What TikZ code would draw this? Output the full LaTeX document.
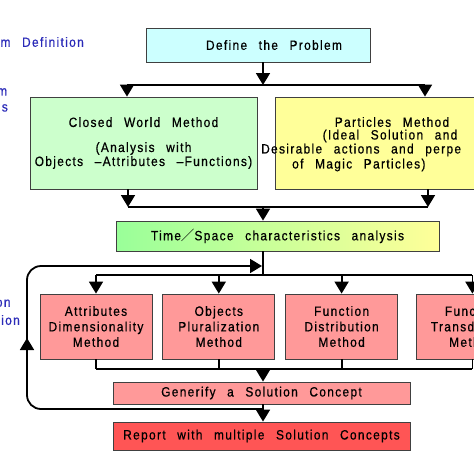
\documentclass[tikz,border=0pt]{standalone}
\usepackage{fontspec}
\newfontfamily\gothic[FakeStretch=0.88,FakeBold=0.6,LetterSpace=10,WordSpace=2.5]{Liberation Sans}
\newfontfamily\cjk{Noto Sans CJK SC}
\usetikzlibrary{positioning,calc,arrows.meta,decorations.markings}

\definecolor{defcol}{HTML}{CCFFFF}
\definecolor{cwcol}{HTML}{CCFFCC}
\definecolor{pmcol}{HTML}{FFFF99}
\definecolor{tsleft}{HTML}{99FF99}
\definecolor{tsright}{HTML}{FFFF99}
\definecolor{methcol}{HTML}{FF9999}
\definecolor{repcol}{HTML}{FF5555}
\definecolor{phasecol}{HTML}{2B2BB8}

\begin{document}
\begin{tikzpicture}[x=1pt, y=-1pt,
    font={\gothic\fontsize{13.5pt}{14pt}\selectfont},
    box/.style={draw=black!75, line width=0.8pt, inner sep=0pt, align=center},
    method/.style={box, fill=methcol, minimum width=112pt, minimum height=65pt},
    phase/.style={text=phasecol, align=center, inner sep=0pt},
    wire/.style={line width=1.8pt},
    arr/.style={wire, -{Triangle[width=14pt,length=12pt]}}]
  \useasboundingbox (0,0) rectangle (474,474);
  \clip (0,0) rectangle (474,474);

  % phases on the left
  \node[phase, anchor=east] (probdef) at (84,42) {Problem Definition};
  \node[phase, anchor=east] (probana) at (8,100) {Problem\\[2pt]Analysis};
  \node[phase, anchor=east] (solgen) at (20,311) {Solution\\[4pt]Generation};

  % boxes
  \node[box, fill=defcol, minimum width=224pt, minimum height=34pt] (define) at (258,45)
    {\hspace*{32pt}Define the Problem};
  \node[box, fill=cwcol, minimum width=227pt, minimum height=92pt] (closed) at (143.5,143)
    {Closed World Method\\[11pt](Analysis with\\Objects –Attributes –Functions)};
  \node[box, fill=pmcol, minimum width=227pt, minimum height=92pt] (particles) at (388.5,143) {};
  \node[inner sep=0pt] (pm1) at (392,122) {Particles Method};
  \node[inner sep=0pt] (pm2) at (390,136) {(Ideal Solution and};
  \node[inner sep=0pt, anchor=west] (pm3) at (261,150) {Desirable actions and perpe};
  \node[inner sep=0pt, anchor=west] (pm4) at (292,165) {of Magic Particles)};
  \node[box, left color=tsleft, right color=tsright, minimum width=323pt, minimum height=30pt]
    (timespace) at (277.5,236) {Time{\cjk ／}Space characteristics analysis};

  \node[method] (attr) at (96,326.5) {Attributes\\[1.5pt]Dimensionality\\[1.5pt]Method};
  \node[method, right=10pt of attr] (objs) {Objects\\[1.5pt]Pluralization\\[1.5pt]Method};
  \node[method, right=10pt of objs] (func) {Function\\[1.5pt]Distribution\\[1.5pt]Method};
  \node[method, right=18pt of func] (trans) {Function\\[1.5pt]Transduction\\[1.5pt]Method};

  \node[box, fill=methcol, minimum width=297pt, minimum height=22pt] (generify) at (261.5,393)
    {Generify a Solution Concept};
  \node[box, fill=repcol, minimum width=297pt, minimum height=28pt] (report) at (261.5,436)
    {Report with multiple Solution Concepts};

  % split after the definition
  \coordinate (s1) at (263,85);
  \coordinate (s1L) at (127,85);
  \coordinate (s1R) at (425,85);
  \draw[arr] (define.south -| s1) -- (s1);
  \draw[wire] (s1L) -- (s1R);
  \draw[arr] (s1L) -- (closed.north -| s1L);
  \draw[arr] (s1R) -- (particles.north -| s1R);

  % merge into the analysis
  \coordinate (m1) at (263,207);
  \coordinate (m1L) at (128,207);
  \coordinate (m1R) at (428,207);
  \draw[arr] (closed.south -| m1L) -- (m1L);
  \draw[arr] (particles.south -| m1R) -- (m1R);
  \draw[wire] (m1L) -- (m1R);
  \draw[arr] (m1) -- (timespace.north -| m1);

  % out to the four methods
  \coordinate (d1) at (263,275);
  \draw[wire] (timespace.south -| d1) -- (d1);
  \draw[wire] (attr.north |- d1) -- (trans.north |- d1);
  \foreach \m in {attr,objs,func,trans}
    \draw[arr] (\m.north |- d1) -- (\m.north);

  % back together
  \coordinate (c1) at (263,369);
  \foreach \m in {attr,objs,func,trans}
    \draw[wire] (\m.south) -- (\m.south |- c1);
  \draw[wire] (attr.south |- c1) -- (trans.south |- c1);
  \draw[arr] (c1) -- (generify.north -| c1);
  \draw[arr] (generify.south -| c1) -- (report.north -| c1);

  % feedback loop
  \coordinate (fb) at (263,409);
  \coordinate (loopin) at (262,266);
  \draw[arr, rounded corners=14pt,
    postaction={decorate, decoration={markings,
      mark=at position 0.5 with {\arrow{Triangle[width=14pt,length=12pt]}}}}]
    (fb) -| (27,266) -- (loopin);
\end{tikzpicture}
\end{document}
